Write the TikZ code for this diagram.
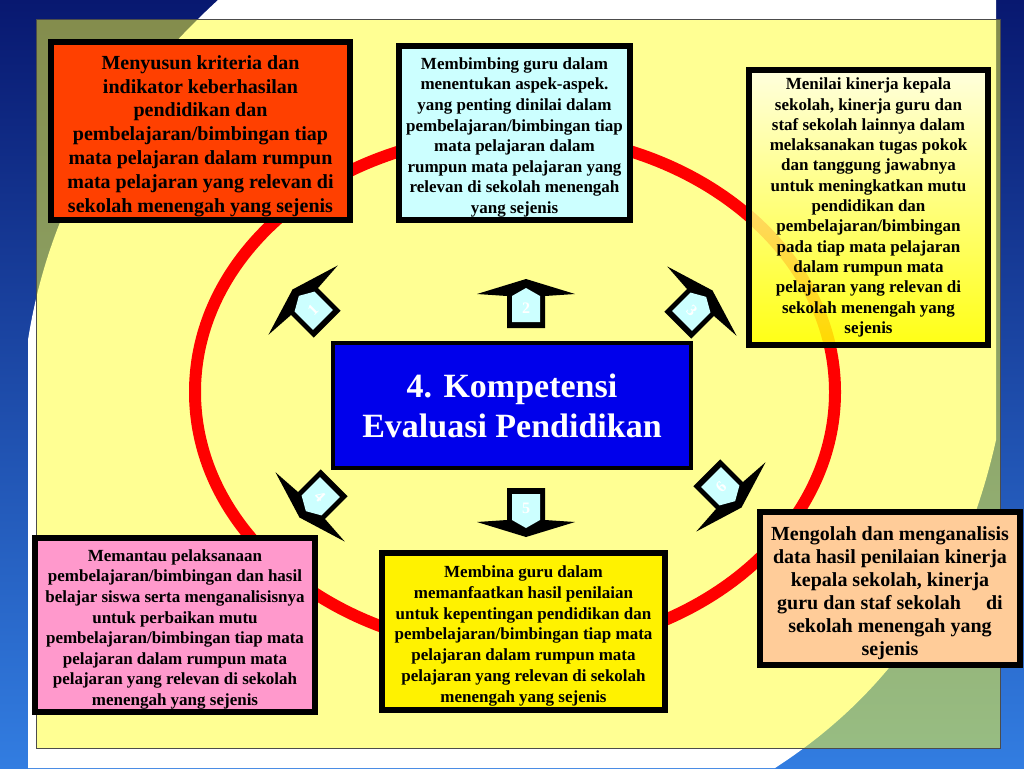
\documentclass[tikz,border=0pt]{standalone}
\usepackage{fontspec}
\setmainfont{Liberation Serif}
\definecolor{navy}{RGB}{8,24,112}
\definecolor{skyb}{RGB}{50,125,225}
\definecolor{panelyellow}{RGB}{255,255,40}
\definecolor{ringred}{RGB}{255,0,0}
\definecolor{orangered}{RGB}{255,64,0}
\definecolor{lightcyan}{RGB}{204,255,255}
\definecolor{pinkbox}{RGB}{255,153,204}
\definecolor{peach}{RGB}{255,204,153}
\definecolor{paleyellow}{RGB}{255,255,235}
\definecolor{titleblue}{RGB}{0,0,235}
\newcommand\boxstrut{\rule{0pt}{1.2em}}
\begin{document}
\begin{tikzpicture}[x=1pt,y=-1pt,
	box/.style={draw=black, line width=6pt, align=center, inner sep=0pt, text=black},
	arrnum/.style={text=white, font=\bfseries\fontsize{16}{16}\selectfont}]
	\useasboundingbox (0,0) rectangle (1024,768);
	% background
	\shade[top color=navy, bottom color=skyb] (0,0) rectangle (1024,768);
	\fill[white] (218,0) -- (996,0) -- (996,440) .. controls (960,600) and (880,700) .. (775,768) -- (28,768) -- (28,340) .. controls (50,200) and (120,90) .. (218,0) -- cycle;
	\fill[panelyellow, fill opacity=0.5] (36,20) rectangle (1000,748);
	\draw[black!70, line width=1pt] (36,20) rectangle (1000,748);
	% ring
	\draw[ringred, line width=12pt] (515,392) ellipse [x radius=320, y radius=258];
	% boxes
	\node[box, fill=orangered, minimum width=299, minimum height=178, font=\bfseries\fontsize{20}{23.8}\selectfont] (kriteria) at (200.5,131) {\boxstrut Menyusun kriteria dan\\indikator keberhasilan\\pendidikan dan\\pembelajaran/bimbingan tiap\\mata pelajaran dalam rumpun\\mata pelajaran yang relevan di\\sekolah menengah yang sejenis};
	\node[box, fill=lightcyan, minimum width=231, minimum height=174, font=\bfseries\fontsize{17}{20.6}\selectfont] (bimbing) at (514.5,133) {\boxstrut Membimbing guru dalam\\menentukan aspek-aspek.\\yang penting dinilai dalam\\pembelajaran/bimbingan tiap\\mata pelajaran dalam\\rumpun mata pelajaran yang\\relevan di sekolah menengah\\yang sejenis};
	\node[box, top color=paleyellow, bottom color=yellow, fill opacity=0.85, text opacity=1, minimum width=239, minimum height=275, font=\bfseries\fontsize{17}{20.3}\selectfont] (menilai) at (868.5,207.5) {Menilai kinerja kepala\\sekolah, kinerja guru dan\\staf sekolah lainnya dalam\\melaksanakan tugas pokok\\dan tanggung jawabnya\\untuk meningkatkan mutu\\pendidikan dan\\pembelajaran/bimbingan\\pada tiap mata pelajaran\\dalam rumpun mata\\pelajaran yang relevan di\\sekolah menengah yang\\sejenis};
	\node[box, fill=pinkbox, minimum width=280, minimum height=174, font=\bfseries\fontsize{17}{20.6}\selectfont] (memantau) at (175,625) {\boxstrut Memantau pelaksanaan\\pembelajaran/bimbingan dan hasil\\belajar siswa serta menganalisisnya\\untuk perbaikan mutu\\pembelajaran/bimbingan tiap mata\\pelajaran dalam rumpun mata\\pelajaran yang relevan di sekolah\\menengah yang sejenis};
	\node[box, fill=yellow, minimum width=283, minimum height=157, font=\bfseries\fontsize{17}{20.8}\selectfont] (membina) at (523.5,631.5) {\boxstrut Membina guru dalam\\memanfaatkan hasil penilaian\\untuk kepentingan pendidikan dan\\pembelajaran/bimbingan tiap mata\\pelajaran dalam rumpun mata\\pelajaran yang relevan di sekolah\\menengah yang sejenis};
	\node[box, fill=peach, minimum width=260, minimum height=153, font=\bfseries\fontsize{20}{23}\selectfont] (mengolah) at (890,588.5) {\boxstrut Mengolah dan menganalisis\\data hasil penilaian kinerja\\kepala sekolah, kinerja\\guru dan staf sekolah\quad\ di\\sekolah menengah yang\\sejenis};
	\node[draw=black, line width=4pt, fill=titleblue, text=white, inner sep=0pt, minimum width=358, minimum height=125, align=center, font=\bfseries\fontsize{34}{40}\selectfont] (title) at (512,405.5) {4. Kompetensi\\Evaluasi Pendidikan};
	% numbered arrows
	\foreach \x/\y/\a/\n/\r in {313/310/135/1/45, 526/308/90/2/0, 692/311/45/3/-45, 320/497/225/4/-45, 526/508/270/5/0, 721/487/315/6/45}{
		\begin{scope}[shift={(\x,\y)}, rotate=\a]
			\fill (-20,-19) -- (12,-19) -- (14,-49) -- (29,0) -- (14,49) -- (12,19) -- (-20,19) -- cycle;
			\fill[lightcyan] (-14,-14) -- (12,-14) -- (20,0) -- (12,14) -- (-14,14) -- cycle;
		\end{scope}
		\node[arrnum, rotate=\r] (num\n) at (\x,\y) {\n};
	}
\end{tikzpicture}
\end{document}
